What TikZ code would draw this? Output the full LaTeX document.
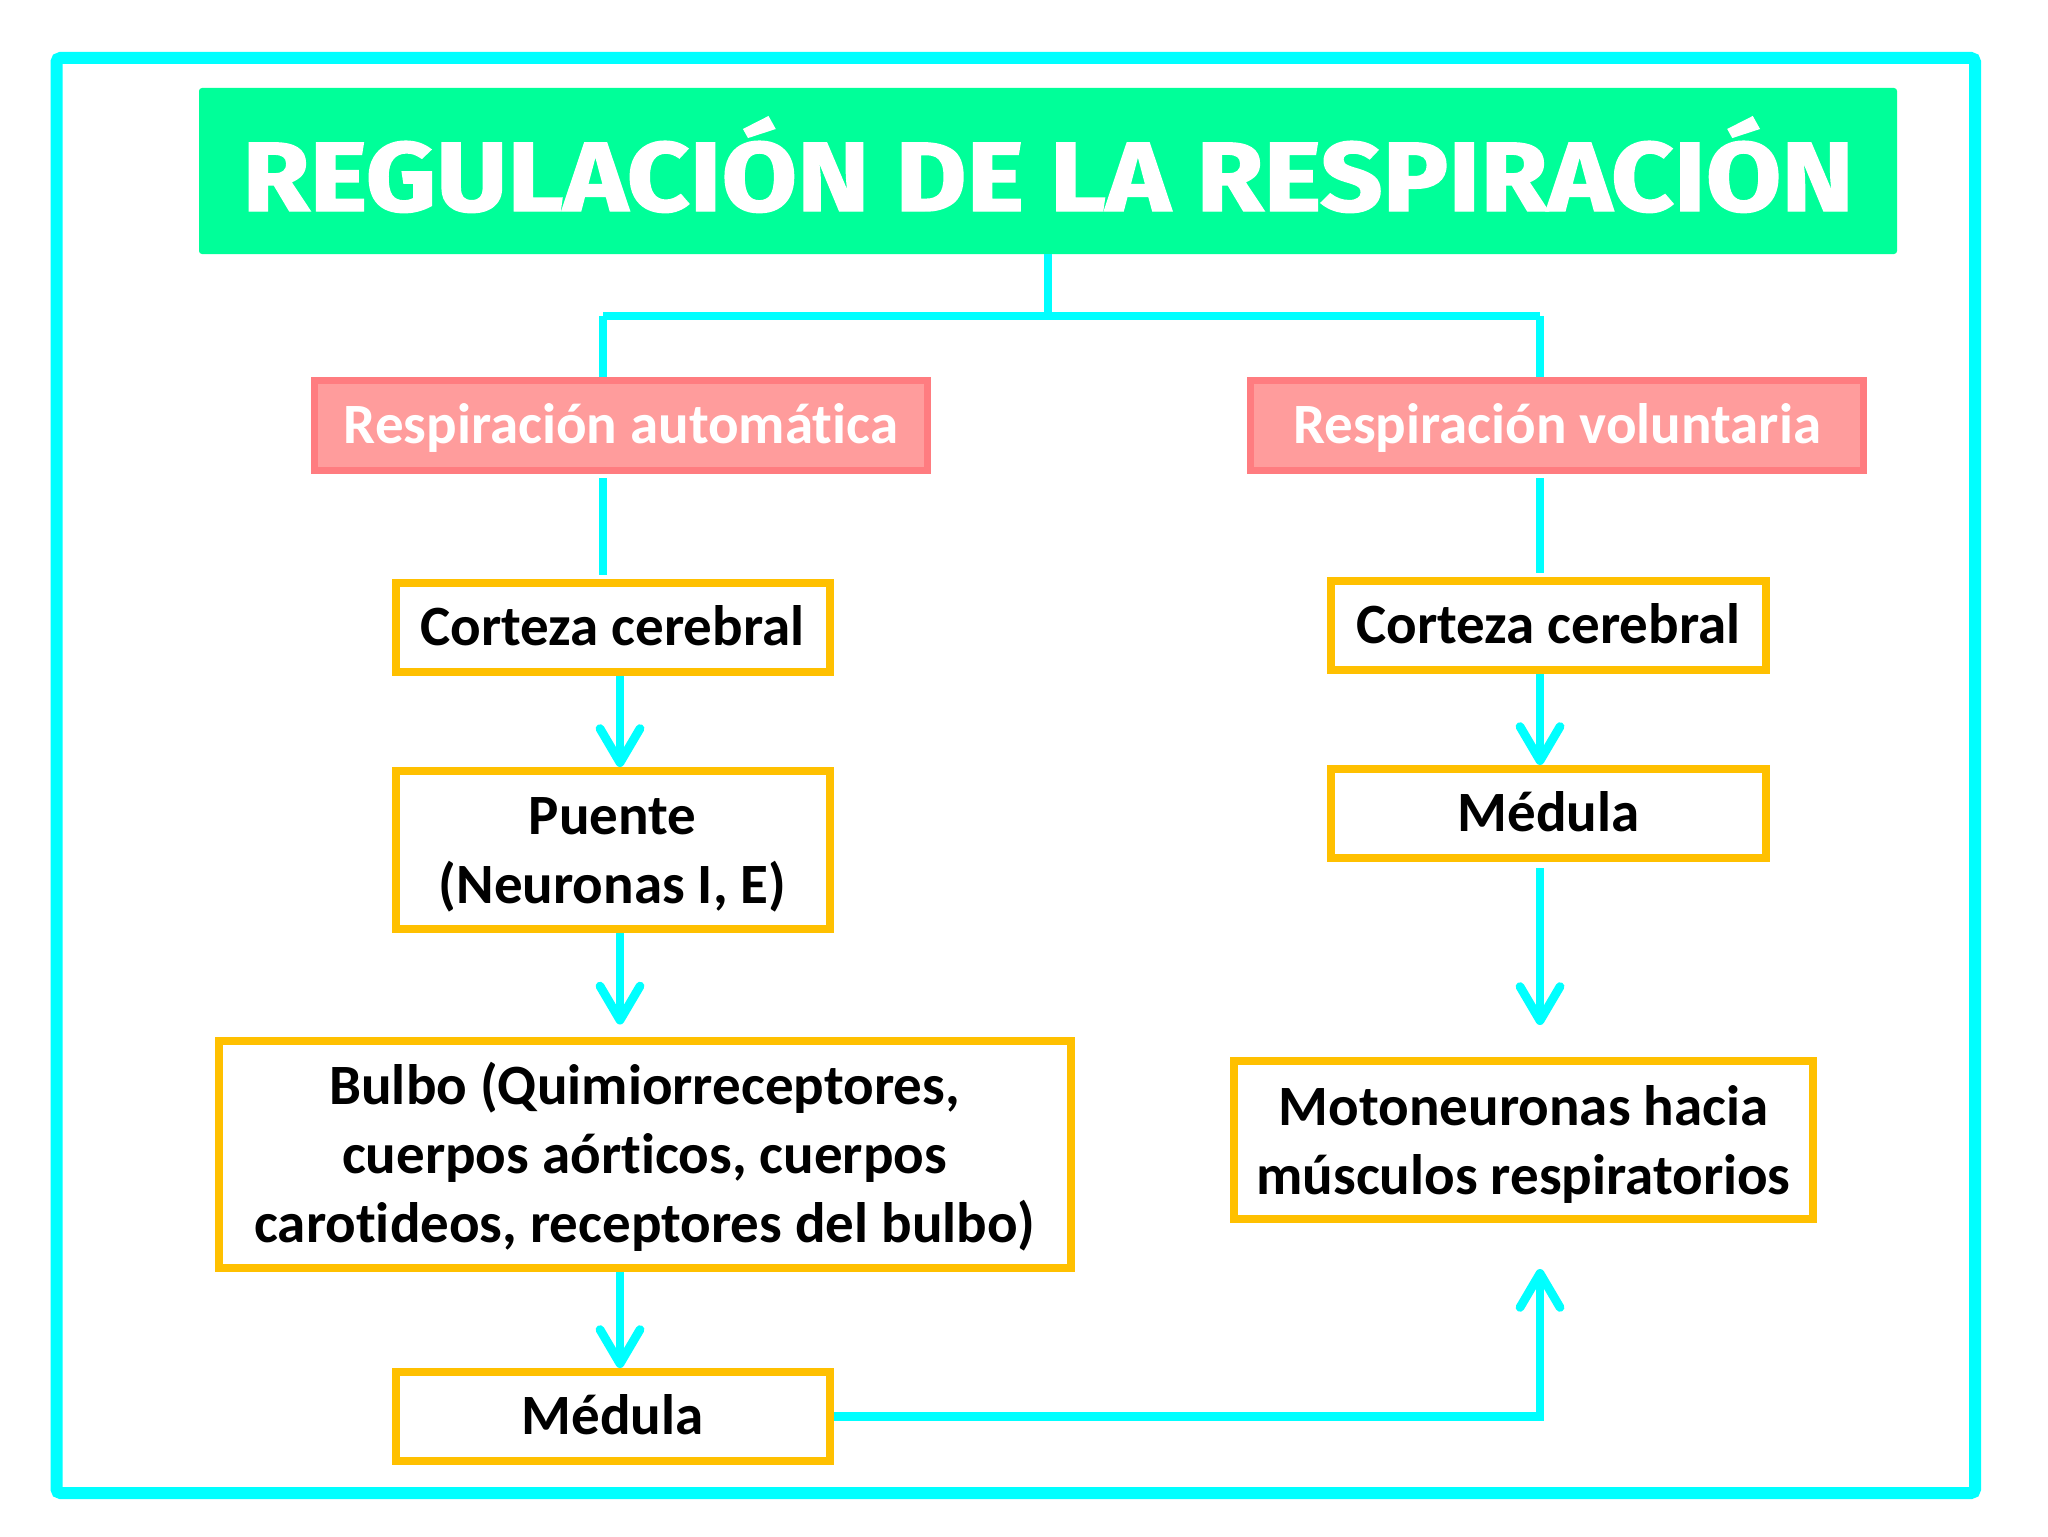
\documentclass[tikz,border=0pt]{standalone}
\usepackage{fontspec}
\setmainfont{Carlito}[Ligatures={NoCommon}]
\newfontfamily\titlefont{Fira Sans}[FakeBold=1.5]
\usetikzlibrary{arrows.meta,calc}
\definecolor{cyanl}{RGB}{0,255,255}
\definecolor{mint}{RGB}{0,255,153}
\definecolor{pinkf}{RGB}{255,156,156}
\definecolor{pinkb}{RGB}{255,124,128}
\definecolor{gold}{RGB}{255,192,0}
\tikzset{
  boxstyle/.style={draw=gold, line width=4pt, fill=white, inner sep=0pt, align=center,
    font=\bfseries\fontsize{28.5}{34.5}\selectfont},
  pinkbox/.style={draw=pinkb, fill=pinkf, line width=3.5pt, inner sep=0pt, text=white,
    minimum width=306.5pt, minimum height=45pt, text height=18pt, text depth=0pt,
    font=\bfseries\fontsize{28.5}{34.5}\selectfont},
  link/.style={draw=cyanl, line width=4.4pt},
  arr/.style={link, -{Straight Barb[length=17pt,width=20pt,round]}},
  frame/.style={draw=cyanl, line width=6pt, rounded corners=2pt}
}
\begin{document}
\begin{tikzpicture}[x=0.5pt,y=-0.5pt]
\useasboundingbox (0,0) rectangle (2048,1536);
\fill[white] (0,0) rectangle (2048,1536);
\draw[frame] (56.5,58) rectangle (1975,1493);

\node[fill=mint, rounded corners=1.5pt, inner sep=0pt, minimum width=849pt, minimum height=83pt,
  text=white, text height=47pt, text depth=7pt] (title) at (1048,171)
  {\resizebox{805.5pt}{47pt}{\titlefont\bfseries REGULACIÓN DE LA RESPIRACIÓN}};

\node[pinkbox] (pinkA) at (621,425.5) {Respiración automática};
\node[pinkbox] (pinkV) at (1557,425.5) {Respiración voluntaria};

\node[boxstyle, minimum width=217pt, minimum height=44.5pt, text height=18pt, text depth=0pt] (cortA) at (612.5,627) {Corteza cerebral};
\node[boxstyle, minimum width=217pt, minimum height=79pt] (puente) at (612.5,850) {\rule{0pt}{23pt}Puente\\(Neuronas I, E)};
\node[boxstyle, minimum width=426pt, minimum height=113.5pt] (bulbo) at (644.5,1154) {\rule{0pt}{24pt}Bulbo (Quimiorreceptores,\\cuerpos aórticos, cuerpos\\carotideos, receptores del bulbo)};
\node[boxstyle, minimum width=217pt, minimum height=44.5pt, text height=18pt, text depth=0pt] (medA) at (612.5,1416.5) {Médula};

\node[boxstyle, minimum width=217.5pt, minimum height=44.5pt, text height=18pt, text depth=0pt] (cortV) at (1548.5,625.5) {Corteza cerebral};
\node[boxstyle, minimum width=217.5pt, minimum height=44.5pt, text height=18pt, text depth=0pt] (medV) at (1548.5,813.5) {Médula};
\node[boxstyle, minimum width=289.5pt, minimum height=79pt] (moto) at (1523.5,1140) {\rule{0pt}{24pt}Motoneuronas hacia\\músculos respiratorios};

\coordinate (xL) at (603,316);
\coordinate (xR) at (1540,316);
\coordinate (aL) at (620,0);

\draw[link] (title.south) -- (title.south |- xL);
\draw[link] (xL) -- (xR);
\draw[link] (xL) -- (xL |- pinkA.north);
\draw[link] (xR) -- (xR |- pinkV.north);
\draw[link] ($(xL |- pinkA.south)+(0,4)$) -- ($(xL |- cortA.north)+(0,-4)$);
\draw[link] ($(xR |- pinkV.south)+(0,4)$) -- ($(xR |- cortV.north)+(0,-4)$);

\draw[arr] (aL |- cortA.south) -- (aL |- puente.north);
\draw[arr] (aL |- puente.south) -- ($(aL |- bulbo.north)+(0,-12)$);
\draw[arr] (aL |- bulbo.south) -- (aL |- medA.north);

\draw[arr] (xR |- cortV.south) -- (xR |- medV.north);
\draw[arr] ($(xR |- medV.south)+(0,6)$) -- ($(xR |- moto.north)+(0,-32)$);
\draw[arr] (medA.east) -| ($(xR |- moto.south)+(0,46)$);
\end{tikzpicture}
\end{document}
